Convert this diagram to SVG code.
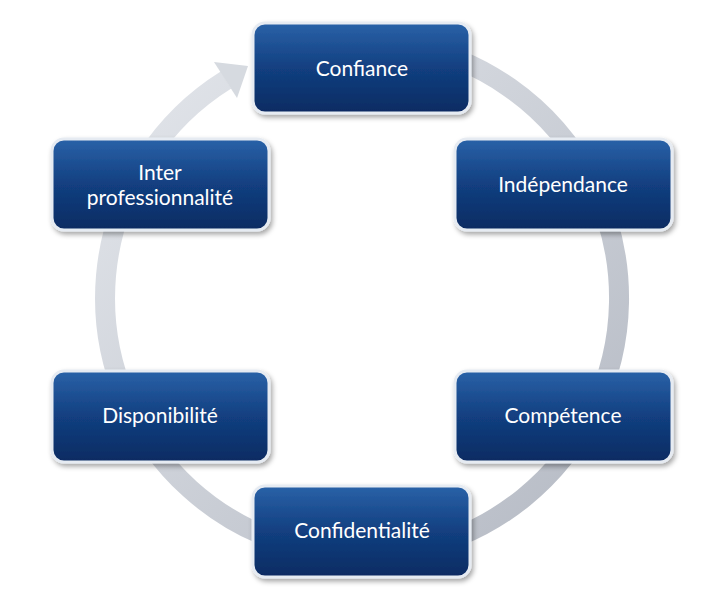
<svg xmlns="http://www.w3.org/2000/svg" width="719" height="608" viewBox="0 0 719 608">
<defs>
<linearGradient id="bg" x1="0" y1="0" x2="0" y2="1">
<stop offset="0" stop-color="#2a62a8"/><stop offset="0.5" stop-color="#123f80"/><stop offset="1" stop-color="#0b2b62"/>
</linearGradient>
<linearGradient id="rg" x1="0" y1="0" x2="1" y2="1">
<stop offset="0" stop-color="#e4e7ec"/><stop offset="1" stop-color="#b4b9c3"/>
</linearGradient>
<filter id="sh" x="-10%" y="-10%" width="125%" height="130%"><feDropShadow dx="2" dy="3" stdDeviation="2.5" flood-color="#000" flood-opacity="0.35"/></filter>
</defs>
<style>
.box{fill:url(#bg);stroke:#e6ebf2;stroke-width:3;filter:url(#sh)}
.t{font-family:Lato,"Open Sans",sans-serif;font-size:21px;fill:#fff;text-anchor:middle}
</style>
<rect width="719" height="608" fill="#fff"/>
<g id="connectors">
<path d="M 226 80 A 257 257 0 1 0 407 45" fill="none" stroke="url(#rg)" stroke-width="20"/>
<polygon points="248,66 214,62 237,98" fill="#d6dae0"/>
</g>
<g id="n1"><rect class="box" x="253" y="23" width="217" height="90" rx="12"/><text class="t" x="362" y="76">Confiance</text></g>
<g id="n2"><rect class="box" x="455" y="139" width="217" height="91" rx="12"/><text class="t" x="563" y="192">Indépendance</text></g>
<g id="n3"><rect class="box" x="455" y="371" width="217" height="91" rx="12"/><text class="t" x="563" y="423">Compétence</text></g>
<g id="n4"><rect class="box" x="253" y="486" width="217" height="91" rx="12"/><text class="t" x="362" y="538">Confidentialité</text></g>
<g id="n5"><rect class="box" x="52" y="371" width="217" height="91" rx="12"/><text class="t" x="160" y="423">Disponibilité</text></g>
<g id="n6"><rect class="box" x="52" y="139" width="217" height="91" rx="12"/><text class="t" x="160" y="180">Inter</text><text class="t" x="160" y="205">professionnalité</text></g>
</svg>
